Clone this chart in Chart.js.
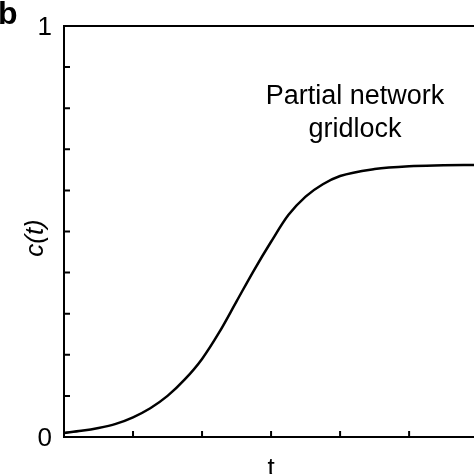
<!DOCTYPE html>
<html>
<head>
<meta charset="utf-8">
<script src="https://cdn.jsdelivr.net/npm/chart.js@4"></script>
<style>
  html, body { margin: 0; padding: 0; background: #fff; }
  #wrap { width: 474px; height: 474px; position: relative; }
</style>
</head>
<body>
<div id="wrap"><canvas id="c"></canvas></div>
<script>
// data (t in tick units, c(t) in 0..1)
const tValues = [0, 0.25, 0.5, 0.75, 1, 1.25, 1.5, 1.75, 2, 2.25, 2.5, 2.75, 3, 3.25, 3.5, 3.75, 4, 4.5, 5, 5.5, 5.94];
const cValues = [0.01, 0.015, 0.022, 0.032, 0.048, 0.07, 0.1, 0.14, 0.19, 0.255, 0.33, 0.405, 0.475, 0.54, 0.585, 0.615, 0.635, 0.652, 0.659, 0.661, 0.662];
const xTicks = [1, 2, 3, 4, 5];
const yTicks = [0.1, 0.2, 0.3, 0.4, 0.5, 0.6, 0.7, 0.8, 0.9];
const yLabels = [0, 1];

const FONT = '"Liberation Sans", Arial, sans-serif';

// axes drawn by hand: frame, inward ticks, labels
const axesPlugin = {
    id: 'axes',
    afterDraw(chart) {
        const ctx = chart.ctx;
        const a = chart.chartArea;
        const xs = chart.scales.x, ys = chart.scales.y;
        ctx.save();
        ctx.strokeStyle = '#000';
        ctx.lineWidth = 2;
        ctx.beginPath();
        ctx.moveTo(a.right + 2, a.top);
        ctx.lineTo(a.left, a.top);
        ctx.lineTo(a.left, a.bottom);
        ctx.lineTo(a.right + 2, a.bottom);
        ctx.stroke();

        ctx.beginPath();
        xTicks.forEach(v => {
            const px = xs.getPixelForValue(v);
            ctx.moveTo(px, a.bottom);
            ctx.lineTo(px, a.bottom - 6);
        });
        yTicks.forEach(v => {
            const py = ys.getPixelForValue(v);
            ctx.moveTo(a.left, py);
            ctx.lineTo(a.left + 6, py);
        });
        ctx.stroke();

        ctx.fillStyle = '#000';
        ctx.font = '26px ' + FONT;
        ctx.textAlign = 'right';
        ctx.textBaseline = 'middle';
        yLabels.forEach(v => ctx.fillText(String(v), a.left - 12, ys.getPixelForValue(v) + 2));

        ctx.textAlign = 'center';
        ctx.textBaseline = 'alphabetic';
        ctx.fillText('t', xs.getPixelForValue(3), 476);
        ctx.font = '27px ' + FONT;
        ctx.fillText('Partial network', 355, 104);
        ctx.fillText('gridlock', 355, 137);

        ctx.save();
        ctx.translate(36, 238);
        ctx.rotate(-Math.PI / 2);
        ctx.font = 'italic 26px ' + FONT;
        ctx.textBaseline = 'middle';
        ctx.fillText('c(t)', 0, 0);
        ctx.restore();

        ctx.font = 'bold 32px ' + FONT;
        ctx.textAlign = 'left';
        ctx.textBaseline = 'alphabetic';
        ctx.fillText('b', -2, 24);
        ctx.restore();
    }
};

new Chart(document.getElementById('c'), {
    type: 'line',
    data: {
        datasets: [{
            data: tValues.map((t, i) => ({ x: t, y: cValues[i] })),
            borderColor: '#000',
            borderWidth: 2.5,
            pointRadius: 0,
            cubicInterpolationMode: 'monotone',
            fill: false
        }]
    },
    options: {
        responsive: true,
        maintainAspectRatio: false,
        animation: false,
        layout: { padding: { left: 64, top: 26, bottom: 37, right: 0 } },
        plugins: { legend: { display: false }, tooltip: { enabled: false } },
        scales: {
            x: { type: 'linear', min: 0, max: 5.94, display: false },
            y: { min: 0, max: 1, display: false }
        }
    },
    plugins: [axesPlugin]
});
</script>
</body>
</html>
